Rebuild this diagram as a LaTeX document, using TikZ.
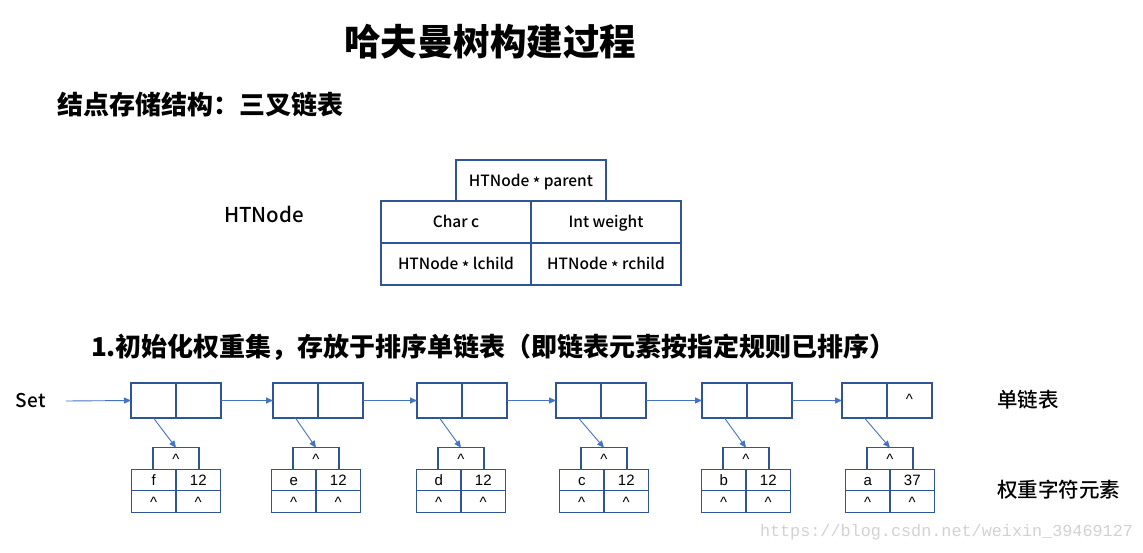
\documentclass[tikz,border=0pt]{standalone}
\usepackage{fontspec}
\setmainfont{Noto Sans CJK SC}
\newfontfamily\medfont{Noto Sans CJK SC Medium}
\newfontfamily\arialfont{Liberation Sans}
\newfontfamily\webfont{Liberation Mono}
\usetikzlibrary{arrows.meta,positioning}
\definecolor{boxblue}{HTML}{2F5597}
\definecolor{linkblue}{HTML}{4472C4}
\definecolor{markgray}{HTML}{D2D2D2}
\newcommand{\ptr}{\raisebox{-0.22em}{*}}
\begin{document}
\begin{tikzpicture}[x=1pt,y=-1pt,
	every node/.style={inner sep=0pt, outer sep=0pt},
	field/.style={draw=boxblue, line width=1.2pt, minimum width=150pt, minimum height=42pt, text height=1.3em, text depth=0.17em, font=\medfont\fontsize{15.5}{17}\selectfont},
	listcell/.style={draw=boxblue, line width=1.2pt, minimum width=45pt, minimum height=35pt, text height=0.9em, text depth=0.2em, font=\arialfont\fontsize{15}{17}\selectfont},
	elemcell/.style={draw=boxblue, line width=1.2pt, minimum width=44.5pt, minimum height=21.5pt, text height=1.25em, text depth=0.15em, font=\arialfont\fontsize{15}{17}\selectfont},
	link/.style={draw=linkblue, line width=0.9pt, -{Triangle[length=7pt,width=6pt]}},
	heading/.style={anchor=west, font=\bfseries\fontsize{26}{30}\selectfont},
	note/.style={anchor=west, font=\medfont\fontsize{20.5}{24}\selectfont}]
	\fill[white] (0,0) rectangle (1143,553);
	\useasboundingbox (0,0) rectangle (1143,553);
	
	\node[font=\bfseries\fontsize{36.5}{40}\selectfont] (title) at (490,42) {哈夫曼树构建过程};
	\node[heading] (store) at (57,105) {结点存储结构：三叉链表};
	
	% three-link node
	\node[anchor=west, font=\medfont\fontsize{20.5}{24}\selectfont] (htlabel) at (224,214) {HTNode};
	\node[field, minimum height=41pt] (pa) at (531,180.5) {HTNode \ptr{} parent};
	\node[field, anchor=north east] (cc) at (pa.south) {Char c};
	\node[field, right=0pt of cc] (iw) {Int weight};
	\node[field, below=0pt of cc] (lch) {HTNode \ptr{} lchild};
	\node[field, below=0pt of iw] (rch) {HTNode \ptr{} rchild};
	
	\node[heading] (step) at (91,347) {1.初始化权重集，存放于排序单链表（即链表元素按指定规则已排序）};
	
	% sorted list and weight elements
	\node[anchor=west, font=\medfont\fontsize{19}{22}\selectfont] (set) at (16,401) {Set};
	\foreach \lx/\ex/\ch/\wt/\tail [count=\i] in {176/176/f/12/{}, 318/316/e/12/{}, 462/461/d/12/{}, 601/604/c/12/{}, 747/746/b/12/{}, 887/890/a/37/\textasciicircum}{
		\node[listcell, anchor=east] (la\i) at (\lx,400.5) {};
		\node[listcell, right=0pt of la\i] (lb\i) {\tail};
		\node[elemcell, minimum width=46pt] (p\i) at (\ex,458.5) {\textasciicircum};
		\node[elemcell, anchor=north east] (c\i) at (p\i.south) {\ch};
		\node[elemcell, right=0pt of c\i] (w\i) {\wt};
		\node[elemcell, below=0pt of c\i] (lc\i) {\textasciicircum};
		\node[elemcell, below=0pt of w\i] (rc\i) {\textasciicircum};
		\draw[link] (la\i.south) -- (p\i.north);
	}
	\coordinate (setend) at (66,401);
	\draw[link] (setend) -- (la1.west);
	\foreach \i [evaluate=\i as \j using int(\i+1)] in {1,...,5}
		\draw[link] (lb\i.east) -- (la\j.west);
	
	\node[note] (listlabel) at (997,400) {单链表};
	\node[note] (elemlabel) at (997,490) {权重字符元素};
	\node[anchor=west, text=markgray, font=\webfont\fontsize{16.8}{18}\selectfont] (mark) at (760,532) {https://blog.csdn.net/weixin\_39469127};
\end{tikzpicture}
\end{document}
